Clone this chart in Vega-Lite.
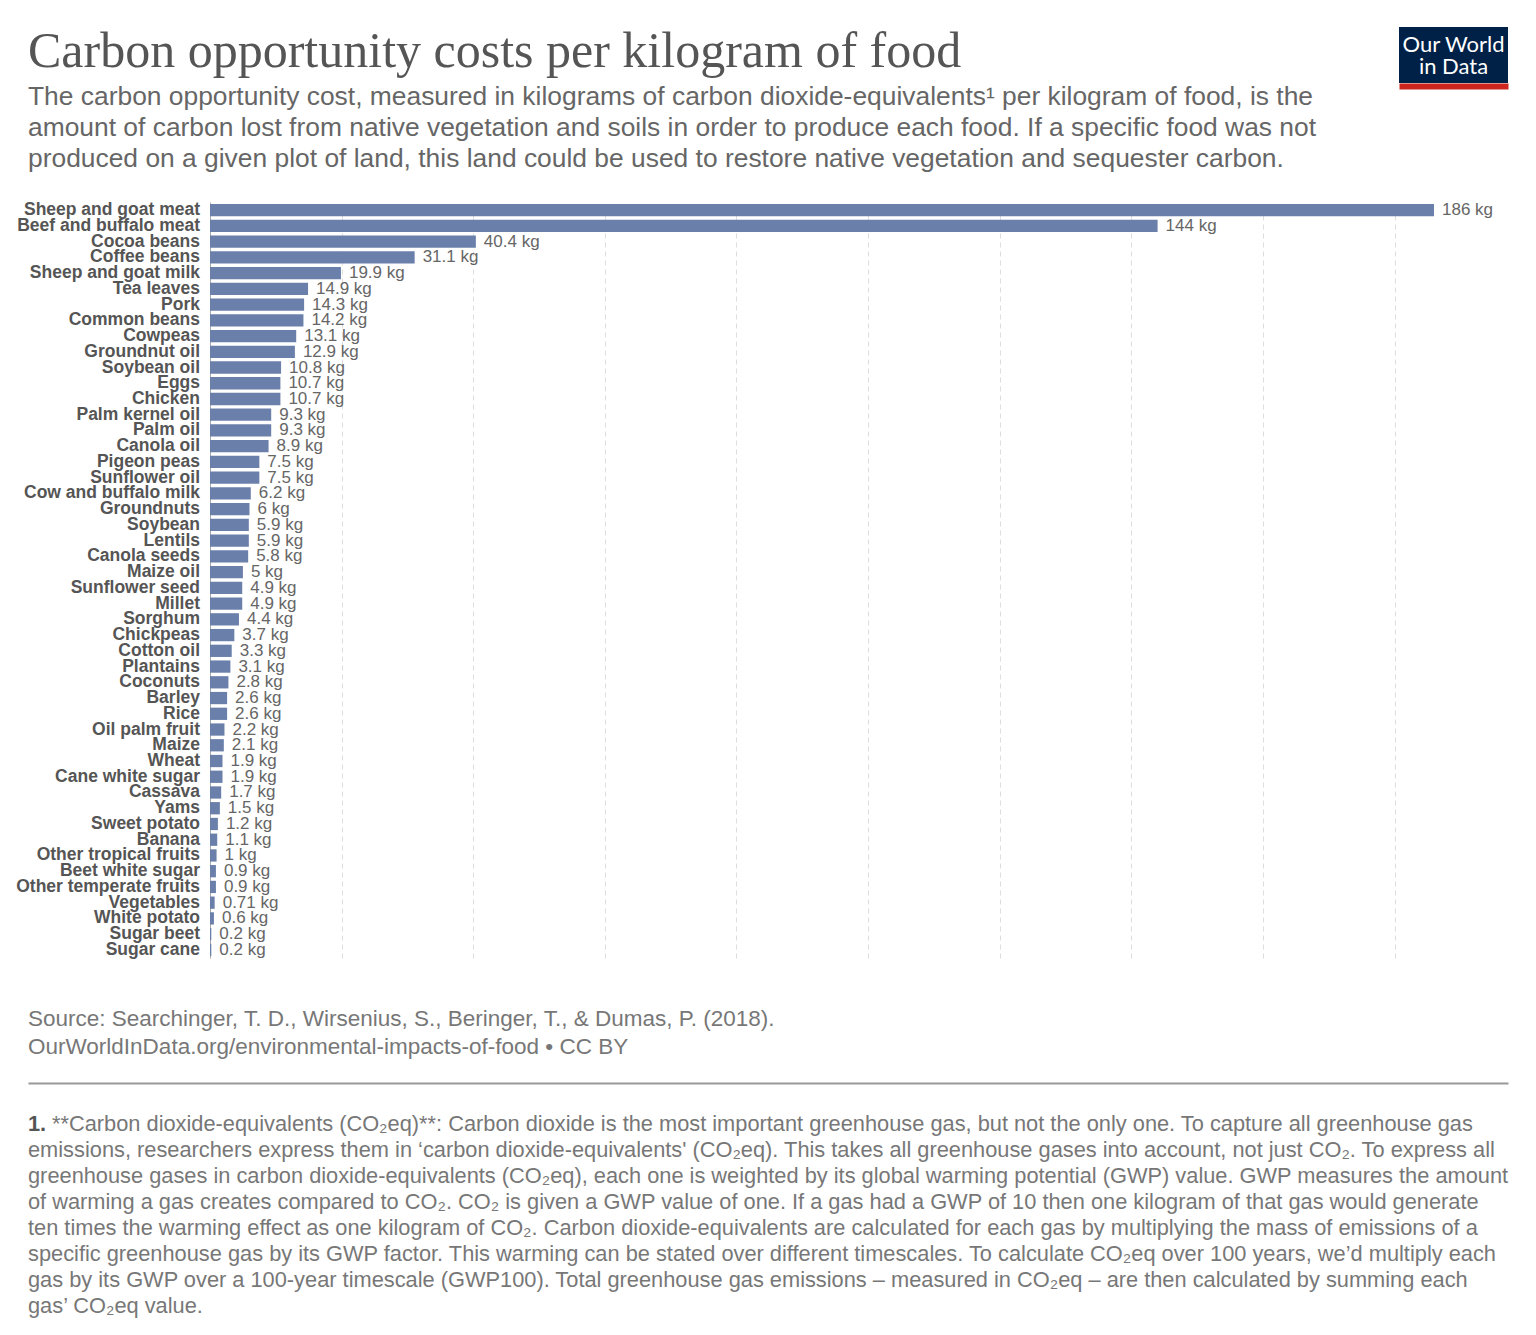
{
  "$schema": "https://vega.github.io/schema/vega-lite/v6.json",
  "background": "white",
  "padding": {"left": 16, "top": 27, "right": 0, "bottom": 0},
  "autosize": {"type": "pad"},
  "config": {
    "view": {"stroke": null},
    "font": "Liberation Sans"
  },
  "spacing": 28,
  "vconcat": [
    {
      "spacing": 0,
      "hconcat": [
        {
          "width": 1371,
          "height": 1,
          "title": {
            "text": "Carbon opportunity costs per kilogram of food",
            "subtitle": [
              "The carbon opportunity cost, measured in kilograms of carbon dioxide-equivalents¹ per kilogram of food, is the",
              "amount of carbon lost from native vegetation and soils in order to produce each food. If a specific food was not",
              "produced on a given plot of land, this land could be used to restore native vegetation and sequester carbon."
            ],
            "orient": "bottom",
            "anchor": "start",
            "font": "Liberation Serif",
            "fontSize": 50,
            "fontWeight": "normal",
            "color": "#555555",
            "subtitleFont": "Liberation Sans",
            "subtitleFontSize": 26.4,
            "subtitleColor": "#666666",
            "subtitleLineHeight": 31,
            "subtitlePadding": 7,
            "offset": -1
          },
          "data": {"values": []},
          "mark": {"type": "text", "fontSize": 1},
          "encoding": {"text": {"field": "t"}}
        },
        {
          "width": 109,
          "height": 56,
          "view": {"fill": "#002147", "stroke": null},
          "data": {"values": [{"row": 1, "word": "Our World"}, {"row": 2, "word": "in Data"}]},
          "mark": {"type": "text", "font": "Lato", "fontSize": 22, "color": "white", "baseline": "middle", "dy": 1},
          "encoding": {
            "x": {
              "datum": 0.5,
              "type": "quantitative",
              "scale": {"domain": [0, 1]},
              "axis": {
                "orient": "bottom",
                "domain": true,
                "domainColor": "#ce261e",
                "domainWidth": 6,
                "domainCap": "butt",
                "offset": 3,
                "labels": false,
                "ticks": false,
                "grid": false,
                "title": null
              }
            },
            "y": {
              "field": "row",
              "type": "ordinal",
              "axis": null,
              "scale": {"type": "point", "padding": 0.75}
            },
            "text": {"field": "word"}
          }
        }
      ]
    },
    {
      "spacing": 48,
      "vconcat": [
        {
          "spacing": 0,
          "data": {
            "values": [
              {"food": "Sheep and goat meat", "kg": 186},
              {"food": "Beef and buffalo meat", "kg": 144},
              {"food": "Cocoa beans", "kg": 40.4},
              {"food": "Coffee beans", "kg": 31.1},
              {"food": "Sheep and goat milk", "kg": 19.9},
              {"food": "Tea leaves", "kg": 14.9},
              {"food": "Pork", "kg": 14.3},
              {"food": "Common beans", "kg": 14.2},
              {"food": "Cowpeas", "kg": 13.1},
              {"food": "Groundnut oil", "kg": 12.9},
              {"food": "Soybean oil", "kg": 10.8},
              {"food": "Eggs", "kg": 10.7},
              {"food": "Chicken", "kg": 10.7},
              {"food": "Palm kernel oil", "kg": 9.3},
              {"food": "Palm oil", "kg": 9.3},
              {"food": "Canola oil", "kg": 8.9},
              {"food": "Pigeon peas", "kg": 7.5},
              {"food": "Sunflower oil", "kg": 7.5},
              {"food": "Cow and buffalo milk", "kg": 6.2},
              {"food": "Groundnuts", "kg": 6},
              {"food": "Soybean", "kg": 5.9},
              {"food": "Lentils", "kg": 5.9},
              {"food": "Canola seeds", "kg": 5.8},
              {"food": "Maize oil", "kg": 5},
              {"food": "Sunflower seed", "kg": 4.9},
              {"food": "Millet", "kg": 4.9},
              {"food": "Sorghum", "kg": 4.4},
              {"food": "Chickpeas", "kg": 3.7},
              {"food": "Cotton oil", "kg": 3.3},
              {"food": "Plantains", "kg": 3.1},
              {"food": "Coconuts", "kg": 2.8},
              {"food": "Barley", "kg": 2.6},
              {"food": "Rice", "kg": 2.6},
              {"food": "Oil palm fruit", "kg": 2.2},
              {"food": "Maize", "kg": 2.1},
              {"food": "Wheat", "kg": 1.9},
              {"food": "Cane white sugar", "kg": 1.9},
              {"food": "Cassava", "kg": 1.7},
              {"food": "Yams", "kg": 1.5},
              {"food": "Sweet potato", "kg": 1.2},
              {"food": "Banana", "kg": 1.1},
              {"food": "Other tropical fruits", "kg": 1},
              {"food": "Beet white sugar", "kg": 0.9},
              {"food": "Other temperate fruits", "kg": 0.9},
              {"food": "Vegetables", "kg": 0.71},
              {"food": "White potato", "kg": 0.6},
              {"food": "Sugar beet", "kg": 0.2},
              {"food": "Sugar cane", "kg": 0.2}
            ]
          },
          "hconcat": [
            {
              "width": 182,
              "height": 756,
              "mark": {
                "type": "text",
                "align": "right",
                "baseline": "middle",
                "dx": -10,
                "font": "Liberation Sans",
                "fontSize": 17.5,
                "fontWeight": "bold",
                "color": "#555555"
              },
              "encoding": {
                "x": {"datum": 1, "type": "quantitative", "scale": {"domain": [0, 1]}, "axis": null},
                "y": {
                  "field": "food",
                  "type": "nominal",
                  "sort": null,
                  "axis": null,
                  "scale": {"type": "band", "paddingInner": 0.22, "paddingOuter": 0.125}
                },
                "text": {"field": "food"}
              }
            },
            {
              "width": 1224,
              "height": 756,
              "encoding": {
                "y": {
                  "field": "food",
                  "type": "nominal",
                  "sort": null,
                  "scale": {"type": "band", "paddingInner": 0.22, "paddingOuter": 0.125},
                  "axis": {
                    "title": null,
                    "labels": false,
                    "ticks": false,
                    "domain": true,
                    "domainColor": "#a8a8a8",
                    "domainWidth": 1
                  }
                },
                "x": {
                  "field": "kg",
                  "type": "quantitative",
                  "scale": {"domain": [0, 186], "nice": false, "zero": true},
                  "axis": {
                    "title": null,
                    "labels": false,
                    "ticks": false,
                    "domain": false,
                    "grid": true,
                    "gridColor": "#dddddd",
                    "gridDash": [5, 4],
                    "gridWidth": 1,
                    "values": [20, 40, 60, 80, 100, 120, 140, 160, 180]
                  }
                }
              },
              "layer": [
                {"mark": {"type": "bar", "color": "#6a80ab"}},
                {
                  "mark": {
                    "type": "text",
                    "align": "left",
                    "baseline": "middle",
                    "dx": 8,
                    "font": "Liberation Sans",
                    "fontSize": 17,
                    "color": "#666666",
                    "text": {"expr": "datum.kg + ' kg'"}
                  }
                }
              ]
            }
          ]
        },
        {
          "width": 1480,
          "height": 208,
          "title": {
            "text": [
              "Source: Searchinger, T. D., Wirsenius, S., Beringer, T., & Dumas, P. (2018).",
              "OurWorldInData.org/environmental-impacts-of-food • CC BY"
            ],
            "anchor": "start",
            "font": "Liberation Sans",
            "fontSize": 22.5,
            "fontWeight": "normal",
            "color": "#777777",
            "lineHeight": 28,
            "offset": 25
          },
          "layer": [
            {
              "data": {
                "values": [
                  {"n": 2, "line": "emissions, researchers express them in ‘carbon dioxide-equivalents' (CO₂eq). This takes all greenhouse gases into account, not just CO₂. To express all"},
                  {"n": 3, "line": "greenhouse gases in carbon dioxide-equivalents (CO₂eq), each one is weighted by its global warming potential (GWP) value. GWP measures the amount"},
                  {"n": 4, "line": "of warming a gas creates compared to CO₂. CO₂ is given a GWP value of one. If a gas had a GWP of 10 then one kilogram of that gas would generate"},
                  {"n": 5, "line": "ten times the warming effect as one kilogram of CO₂. Carbon dioxide-equivalents are calculated for each gas by multiplying the mass of emissions of a"},
                  {"n": 6, "line": "specific greenhouse gas by its GWP factor. This warming can be stated over different timescales. To calculate CO₂eq over 100 years, we’d multiply each"},
                  {"n": 7, "line": "gas by its GWP over a 100-year timescale (GWP100). Total greenhouse gas emissions – measured in CO₂eq – are then calculated by summing each"},
                  {"n": 8, "line": "gas’ CO₂eq value."}
                ]
              },
              "mark": {"type": "text", "align": "left", "baseline": "alphabetic", "dy": 35, "font": "Liberation Sans", "fontSize": 21.8, "color": "#777777"},
              "encoding": {
                "x": {
                  "datum": 0,
                  "type": "quantitative",
                  "scale": {"domain": [0, 1]},
                  "axis": {
                    "orient": "top",
                    "domain": true,
                    "domainColor": "#999999",
                    "domainWidth": 2,
                    "labels": false,
                    "ticks": false,
                    "grid": false,
                    "title": null
                  }
                },
                "y": {"field": "n", "type": "ordinal", "axis": null, "scale": {"type": "point", "padding": 0.5}},
                "text": {"field": "line"}
              }
            },
            {
              "data": {"values": [{"n": 1, "line": "**Carbon dioxide-equivalents (CO₂eq)**: Carbon dioxide is the most important greenhouse gas, but not the only one. To capture all greenhouse gas"}]},
              "mark": {"type": "text", "align": "left", "baseline": "alphabetic", "dx": 24, "dy": 35, "font": "Liberation Sans", "fontSize": 21.8, "color": "#777777"},
              "encoding": {
                "x": {"datum": 0, "type": "quantitative"},
                "y": {"field": "n", "type": "ordinal"},
                "text": {"field": "line"}
              }
            },
            {
              "data": {"values": [{"n": 1, "line": "1."}]},
              "mark": {"type": "text", "align": "left", "baseline": "alphabetic", "dy": 35, "font": "Liberation Sans", "fontSize": 21.8, "fontWeight": "bold", "color": "#555555"},
              "encoding": {
                "x": {"datum": 0, "type": "quantitative"},
                "y": {"field": "n", "type": "ordinal"},
                "text": {"field": "line"}
              }
            }
          ]
        }
      ]
    }
  ]
}
